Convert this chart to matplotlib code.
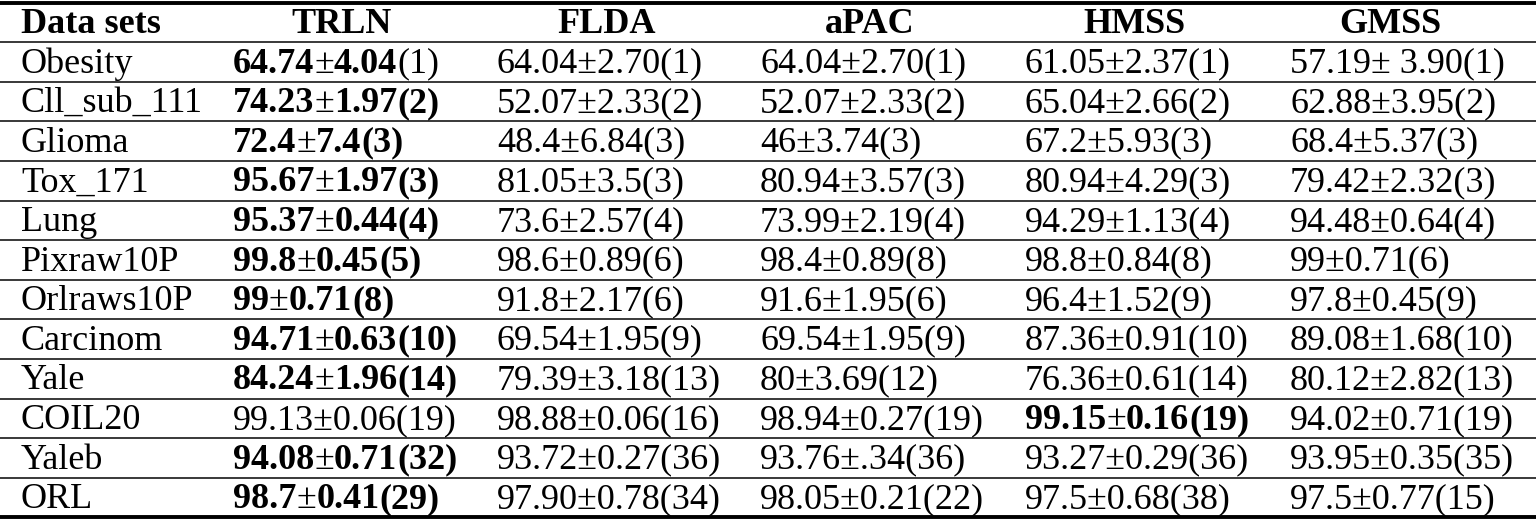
import re
import matplotlib
matplotlib.use("Agg")
import matplotlib.pyplot as plt

# table content
datasets = ["Obesity", "Cll_sub_111", "Glioma", "Tox_171", "Lung", "Pixraw10P",
            "Orlraws10P", "Carcinom", "Yale", "COIL20", "Yaleb", "ORL"]
methods = ["TRLN", "FLDA", "aPAC", "HMSS", "GMSS"]

trln = ["64.74±4.04(1)", "74.23±1.97(2)", "72.4±7.4(3)", "95.67±1.97(3)", "95.37±0.44(4)",
        "99.8±0.45(5)", "99±0.71(8)", "94.71±0.63(10)", "84.24±1.96(14)", "99.13±0.06(19)",
        "94.08±0.71(32)", "98.7±0.41(29)"]
flda = ["64.04±2.70(1)", "52.07±2.33(2)", "48.4±6.84(3)", "81.05±3.5(3)", "73.6±2.57(4)",
        "98.6±0.89(6)", "91.8±2.17(6)", "69.54±1.95(9)", "79.39±3.18(13)", "98.88±0.06(16)",
        "93.72±0.27(36)", "97.90±0.78(34)"]
apac = ["64.04±2.70(1)", "52.07±2.33(2)", "46±3.74(3)", "80.94±3.57(3)", "73.99±2.19(4)",
        "98.4±0.89(8)", "91.6±1.95(6)", "69.54±1.95(9)", "80±3.69(12)", "98.94±0.27(19)",
        "93.76±.34(36)", "98.05±0.21(22)"]
hmss = ["61.05±2.37(1)", "65.04±2.66(2)", "67.2±5.93(3)", "80.94±4.29(3)", "94.29±1.13(4)",
        "98.8±0.84(8)", "96.4±1.52(9)", "87.36±0.91(10)", "76.36±0.61(14)", "99.15±0.16(19)",
        "93.27±0.29(36)", "97.5±0.68(38)"]
gmss = ["57.19± 3.90(1)", "62.88±3.95(2)", "68.4±5.37(3)", "79.42±2.32(3)", "94.48±0.64(4)",
        "99±0.71(6)", "97.8±0.45(9)", "89.08±1.68(10)", "80.12±2.82(13)", "94.02±0.71(19)",
        "93.95±0.35(35)", "97.5±0.77(15)"]
columns = [trln, flda, apac, hmss, gmss]

# which method is best in each row, and whether its rank is bold too
best = [0, 0, 0, 0, 0, 0, 0, 0, 0, 3, 0, 0]
bold_rank = [False] + [True] * 11

# layout (pixels)
W, H = 1536, 521
top = 2.5
row_h = 39.6
base_off = 30.5
first_x = 21
data_x = [233, 497, 760, 1025, 1290]
head_x = [342, 607, 870, 1134, 1390]
fs = 26
fam = "Liberation Serif"

fig = plt.figure(figsize=(W / 100, H / 100), dpi=100)
ax = fig.add_axes([0, 0, 1, 1])
ax.set_xlim(0, W)
ax.set_ylim(H, 0)
ax.axis("off")
renderer = fig.canvas.get_renderer()


def put(x, y, s, bold):
    t = ax.text(x, y, s, fontsize=fs, family=fam, va="baseline", ha="left",
                fontweight="bold" if bold else "normal")
    bb = t.get_window_extent(renderer)
    return ax.transData.inverted().transform((bb.x1, bb.y0))[0]


# rules
n = len(datasets) + 1
ax.axhline(top, color="black", lw=2.8)
ax.axhline(top + n * row_h, color="black", lw=2.8)
for k in range(1, n):
    ax.axhline(top + k * row_h, color="#2a2a2a", lw=1.3)

# header
y = top + base_off
ax.text(first_x, y, "Data sets", fontsize=fs, family=fam, fontweight="bold", va="baseline")
for m, hx in zip(methods, head_x):
    ax.text(hx, y, m, fontsize=fs, family=fam, fontweight="bold", va="baseline", ha="center")

# body
for i, name in enumerate(datasets):
    y = top + (i + 1) * row_h + base_off
    ax.text(first_x, y, name, fontsize=fs, family=fam, va="baseline")
    for j, col in enumerate(columns):
        s = col[i]
        if best[i] != j:
            put(data_x[j], y, s, False)
            continue
        mean, pm, std, rank = re.match(r"^(.*?)(±\s*)(.*?)(\(\d+\))$", s).groups()
        x = put(data_x[j], y, mean, True)
        x = put(x, y, pm, False)
        x = put(x, y, std, True)
        put(x, y, rank, bold_rank[i])

fig.savefig("out.png", dpi=100, facecolor="white")
